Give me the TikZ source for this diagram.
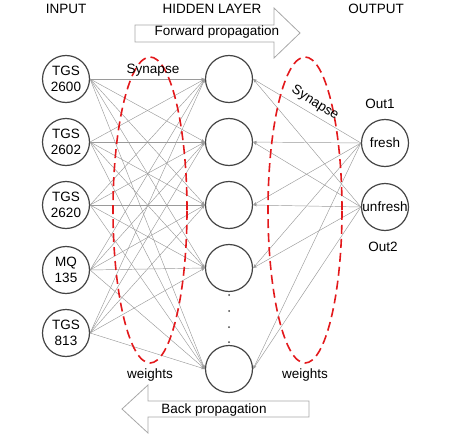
\documentclass[tikz,border=0pt]{standalone}
\usepackage{fontspec}
\setmainfont{Liberation Sans}
\usetikzlibrary{arrows.meta}
\definecolor{nnline}{HTML}{444444}
\definecolor{nngray}{HTML}{9A9A9A}
\definecolor{nnblock}{HTML}{A8A8A8}
\definecolor{nnred}{HTML}{E3191C}

\begin{document}
\begin{tikzpicture}[x=1pt, y=-1pt, font=\fontsize{13.5}{15.5}\selectfont,
    neuron/.style={circle, draw=nnline, line width=1.2pt, minimum size=47pt, inner sep=0pt, align=center},
    synapse/.style={draw=nngray, line width=0.45pt, -{Stealth[length=4pt, width=2.6pt]}},
    weightset/.style={draw=nnred, line width=1.6pt, dash pattern=on 9pt off 5pt},
    blockarrow/.style={draw=nnblock, line width=0.8pt, line join=miter}]
    \useasboundingbox (0,0) rectangle (474,436);
    % layer titles
    \node[anchor=base] (tin) at (66,14) {INPUT};
    \node[anchor=base] (thid) at (212,14) {HIDDEN LAYER};
    \node[anchor=base] (tout) at (376,14) {OUTPUT};
    % block arrows
    \draw[blockarrow] (135,25) -- (274,25) -- (274,8) -- (300,33) -- (274,58) -- (274,42) -- (135,42) -- cycle;
    \node[anchor=base] (fwd) at (217,36) {Forward propagation};
    \draw[blockarrow] (309,401) -- (148,401) -- (148,385) -- (122,409) -- (148,433) -- (148,417) -- (309,417) -- cycle;
    \node[anchor=base] (bwd) at (214,413) {Back propagation};
    % neurons
    \foreach \i/\y/\txt in {1/79/{TGS\\2600}, 2/142/{TGS\\2602}, 3/205/{TGS\\2620}, 4/270/{MQ\\135}, 5/333/{TGS\\813}}
        \node[neuron] (in\i) at (66,\y) {\txt};
    \foreach \j/\y in {1/79, 2/142, 3/205, 4/268, 5/369}
        \node[neuron] (hid\j) at (229,\y) {};
    \node[neuron] (out1) at (385,143) {fresh};
    \node[neuron] (out2) at (385,207) {unfresh};
    \foreach \y in {295,311,327,342}
        \fill[nnline] (229,\y) circle (1pt);
    % connections
    \foreach \i in {1,...,5}
        \foreach \j in {1,...,5}
            \draw[synapse] (in\i.east) -- (hid\j.west);
    \foreach \k in {1,2}
        \foreach \j in {1,...,5}
            \draw[synapse] (out\k.west) -- (hid\j.east);
    % weight groups
    \draw[weightset] (150,210) ellipse [x radius=37pt, y radius=153pt];
    \draw[weightset] (305,210) ellipse [x radius=37pt, y radius=153pt];
    \node[anchor=base] (syn1) at (153,74) {Synapse};
    \node[rotate=-32] (syn2) at (315,103) {Synapse};
    \node[anchor=base] (w1) at (150,378) {weights};
    \node[anchor=base] (w2) at (305,378) {weights};
    \node[anchor=base] (lout1) at (380,108) {Out1};
    \node[anchor=base] (lout2) at (383,251) {Out2};
\end{tikzpicture}
\end{document}
